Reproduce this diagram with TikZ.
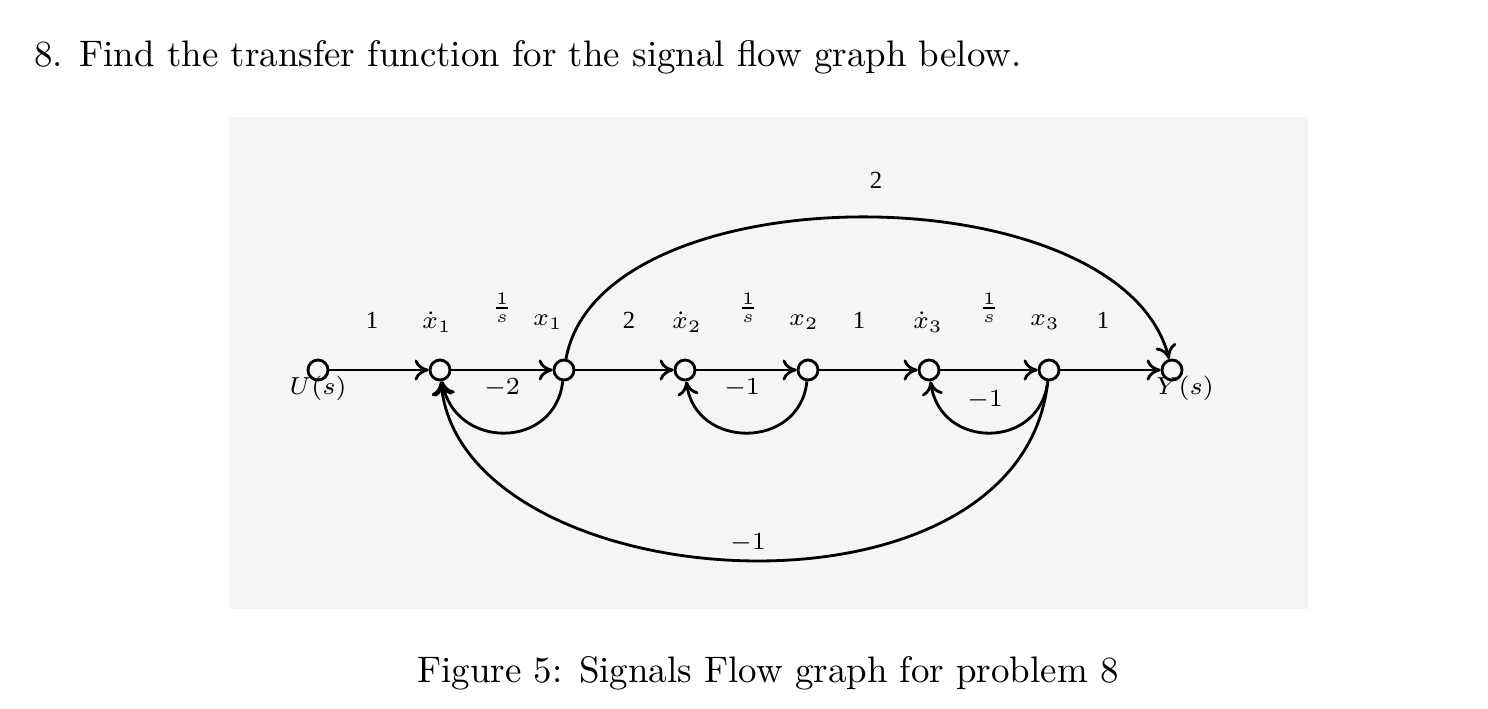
\documentclass[tikz,border=0pt]{standalone}
\usepackage{fontspec}
\newfontfamily\gf{Liberation Serif}
\usetikzlibrary{arrows.meta}
\begin{document}
\begin{tikzpicture}[x=0.01cm,y=-0.01cm,
  nd/.style={circle,draw,thick,minimum size=0.2cm,inner sep=0pt},
  br/.style={thick,-{To[length=4pt,width=6pt]}},
  lb/.style={font=\gf\fontsize{7}{8}\selectfont,inner sep=0pt}]
\useasboundingbox (0,0) rectangle (1488,708);
\fill[black!4] (229,117) rectangle (1308,609);
\node[anchor=west,font=\fontsize{10.5}{12}\selectfont] (title) at (22,57) {8. Find the transfer function for the signal flow graph below.};
\node[font=\fontsize{10.5}{12}\selectfont] (cap) at (768,673) {Figure 5: Signals Flow graph for problem 8};
\node[nd] (u) at (318,370) {};
\node[nd] (a) at (440,370) {};
\node[nd] (b) at (564,370) {};
\node[nd] (c) at (685,370) {};
\node[nd] (d) at (808,370) {};
\node[nd] (e) at (929,370) {};
\node[nd] (f) at (1049,370) {};
\node[nd] (y) at (1172,370) {};
\draw[br] (u) -- (a);
\draw[br] (a) -- (b);
\draw[br] (b) -- (c);
\draw[br] (c) -- (d);
\draw[br] (d) -- (e);
\draw[br] (e) -- (f);
\draw[br] (f) -- (y);
\draw[br] (b) .. controls (600,170) and (1120,170) .. (y);
\draw[br] (b) .. controls (555,450) and (455,450) .. (a);
\draw[br] (d) .. controls (800,450) and (695,450) .. (c);
\draw[br] (f) .. controls (1040,450) and (940,450) .. (e);
\draw[br] (f) .. controls (1020,640) and (460,600) .. (a);
\node[lb] (l1) at (372,320) {1};
\node[lb] (l2) at (629,320) {2};
\node[lb] (l3) at (859,320) {1};
\node[lb] (l4) at (1103,320) {1};
\node[lb] (l5) at (876,180) {2};
\foreach \xx/\nm in {437/1,687/2,928/3} \node[lb] at (\xx,322) {$\dot x_{\nm}$};
\foreach \xx/\nm in {548/1,804/2,1045/3} \node[lb] at (\xx,322) {$x_{\nm}$};
\foreach \xx in {502,748,989} \node[lb] at (\xx,308) {$\frac{1}{s}$};
\node[lb] (us) at (318,388) {$U(s)$};
\node[lb] (ys) at (1185,388) {$Y(s)$};
\node[lb] (m1) at (502,388) {$-2$};
\node[lb] (m2) at (742,388) {$-1$};
\node[lb] (m3) at (985,400) {$-1$};
\node[lb] (m4) at (748,543) {$-1$};
\end{tikzpicture}
\end{document}
